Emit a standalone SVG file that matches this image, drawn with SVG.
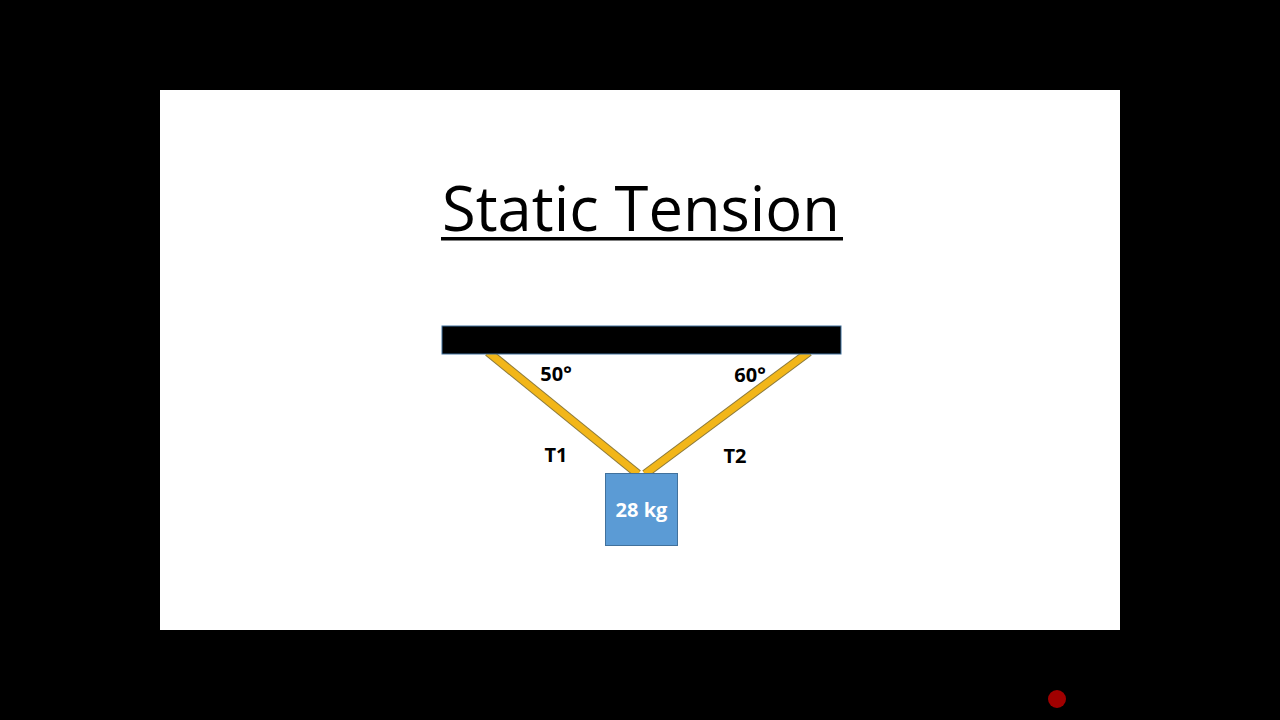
<svg xmlns="http://www.w3.org/2000/svg" width="1280" height="720" viewBox="0 0 1280 720">
<style>
.lbl{font-family:"Open Sans","Liberation Sans",sans-serif;font-weight:bold;font-size:20px;fill:#000}
.rope-o{stroke:#8c7a3c;stroke-width:9;stroke-linecap:butt}
.rope{stroke:#f2b619;stroke-width:7;stroke-linecap:butt}
</style>
<rect x="0" y="0" width="1280" height="720" fill="#000"/>
<rect x="160" y="90" width="960" height="540" fill="#fff"/>
<g id="title">
<text x="641" y="231" text-anchor="middle" font-family="'Open Sans','Liberation Sans',sans-serif" font-size="62" textLength="398" lengthAdjust="spacingAndGlyphs" fill="#000">Static Tension</text>
<rect x="441" y="237" width="402" height="3.5" fill="#000"/>
</g>
<g id="connectors">
<line class="rope-o" x1="488" y1="352" x2="638" y2="474"/>
<line class="rope" x1="488" y1="352" x2="638" y2="474"/>
<line class="rope-o" x1="809" y1="352" x2="645" y2="474"/>
<line class="rope" x1="809" y1="352" x2="645" y2="474"/>
</g>
<g id="ceiling">
<rect x="442" y="326" width="399" height="28" fill="#000" stroke="#41719c" stroke-width="1"/>
</g>
<g id="mass">
<rect x="605.5" y="473.5" width="72" height="72" fill="#5b9bd5" stroke="#41719c" stroke-width="1"/>
<text x="641.5" y="517" text-anchor="middle" class="lbl" style="fill:#fff">28 kg</text>
</g>
<g id="angle1"><text x="556" y="381" text-anchor="middle" class="lbl">50°</text></g>
<g id="angle2"><text x="750" y="382" text-anchor="middle" class="lbl">60°</text></g>
<g id="t1"><text x="556" y="462" text-anchor="middle" class="lbl">T1</text></g>
<g id="t2"><text x="735" y="463" text-anchor="middle" class="lbl">T2</text></g>
<circle cx="1057" cy="699" r="9" fill="#a00000"/>
</svg>
